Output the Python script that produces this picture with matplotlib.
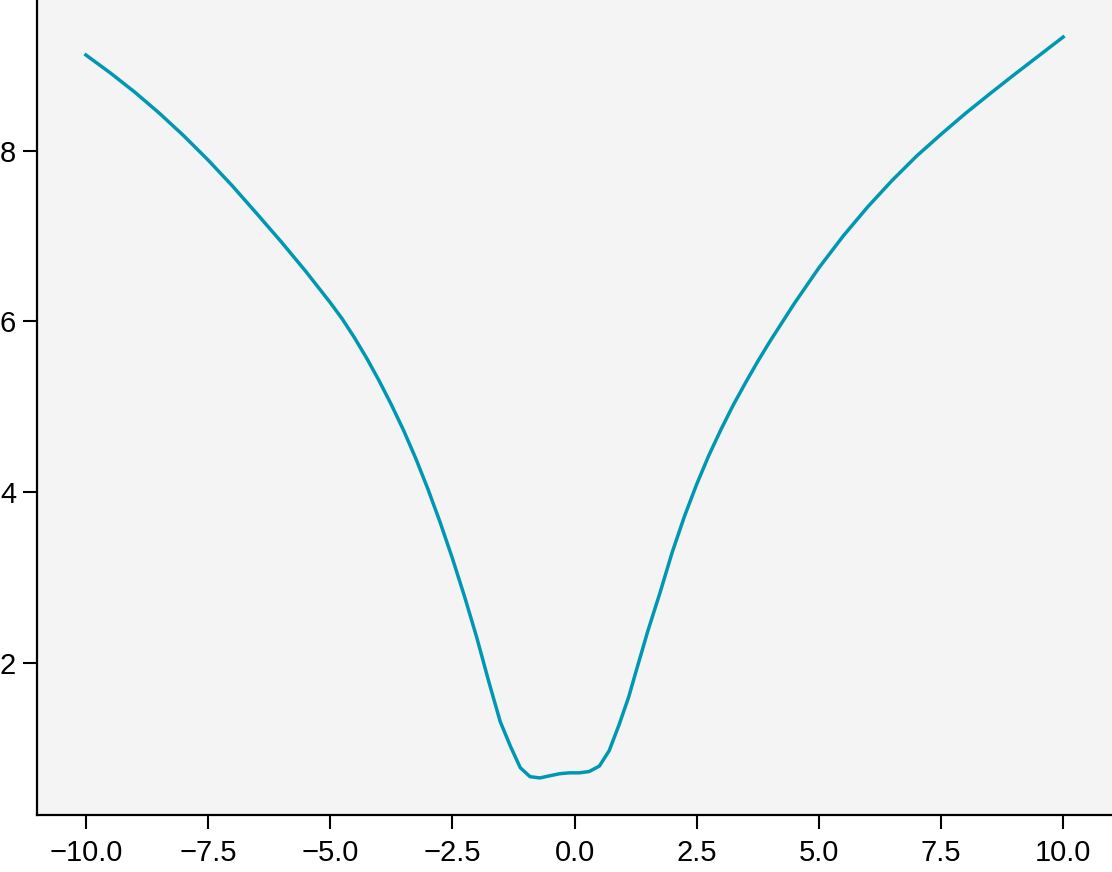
import matplotlib
matplotlib.use("Agg")
import matplotlib.pyplot as plt

plt.rcParams['font.family'] = ['Liberation Sans', 'DejaVu Sans']

x_vals = [-10.0, -9.5, -9.0, -8.5, -8.0, -7.5, -7.0, -6.5, -6.0, -5.5, -5.0, -4.75,
          -4.5, -4.25, -4.0, -3.75, -3.5, -3.25, -3.0, -2.75, -2.5, -2.25, -2.0,
          -1.75, -1.52, -1.31, -1.11, -0.91, -0.71, -0.51, -0.30, -0.10, 0.10, 0.30,
          0.51, 0.71, 0.91, 1.11, 1.25, 1.5, 1.75, 2.0, 2.25, 2.5, 2.75, 3.0, 3.25,
          3.5, 3.75, 4.0, 4.5, 5.0, 5.5, 6.0, 6.5, 7.0, 7.5, 8.0, 8.5, 9.0, 9.5, 10.0]
y_vals = [9.12, 8.91, 8.685, 8.44, 8.175, 7.89, 7.585, 7.26, 6.93, 6.585, 6.22, 6.025,
          5.805, 5.565, 5.305, 5.025, 4.725, 4.395, 4.035, 3.645, 3.225, 2.775, 2.295,
          1.77, 1.31, 1.02, 0.77, 0.665, 0.65, 0.675, 0.70, 0.71, 0.71, 0.725,
          0.79, 0.97, 1.27, 1.60, 1.88, 2.37, 2.82, 3.295, 3.715, 4.09, 4.43, 4.735, 5.02,
          5.28, 5.53, 5.765, 6.21, 6.625, 7.00, 7.34, 7.65, 7.935, 8.19, 8.435, 8.665, 8.89,
          9.11, 9.33]

fig = plt.figure(figsize=(11.12, 8.72), dpi=100)
ax = fig.add_axes([37/1112, 1 - 815/872, 1 - 37/1112, 815/872])
ax.set_facecolor('#f4f4f4')
ax.plot(x_vals, y_vals, color='#0097b2', linewidth=2.5)

ax.set_xticks([-10.0, -7.5, -5.0, -2.5, 0.0, 2.5, 5.0, 7.5, 10.0])
ax.set_yticks([2, 4, 6, 8])
for s in ['top', 'right']:
    ax.spines[s].set_visible(False)
for s in ['left', 'bottom']:
    ax.spines[s].set_linewidth(1.6)
ax.tick_params(axis='both', labelsize=21, length=10, width=1.5)
ax.tick_params(axis='x', pad=7)
ax.tick_params(axis='y', pad=5)

fig.savefig('out.png', dpi=100)
